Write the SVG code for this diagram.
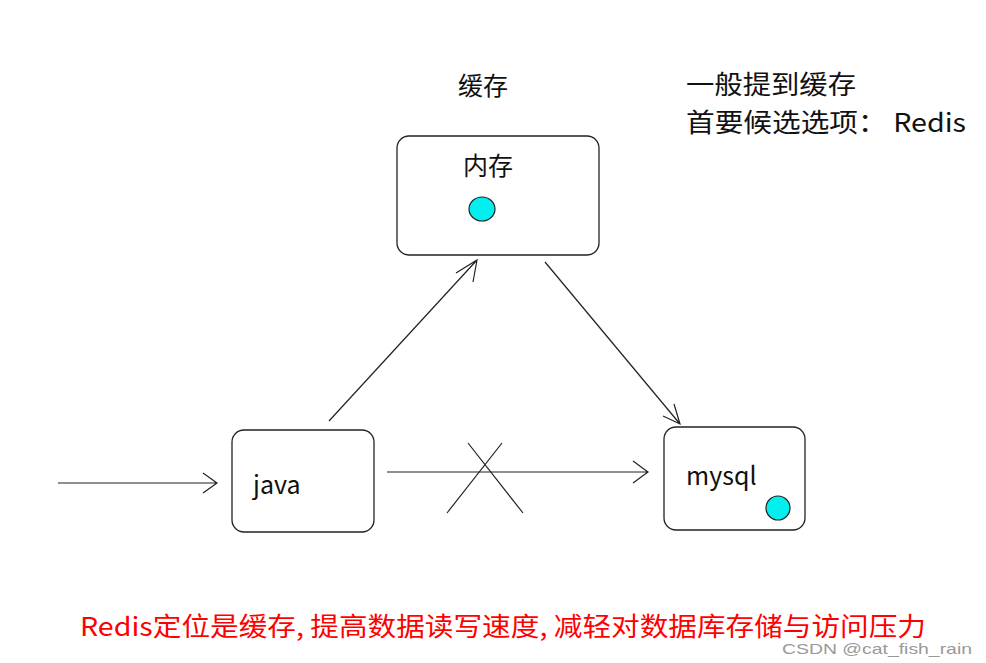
<svg xmlns="http://www.w3.org/2000/svg" width="986" height="663" viewBox="0 0 986 663">
<style>
.box{fill:#fff;stroke:#222;stroke-width:1.3}
.t{font-family:"Noto Sans CJK SC","Liberation Sans",sans-serif;font-size:25px;fill:#111}
.ln{stroke:#222;stroke-width:1.2;fill:none}
.dot{fill:#00f0f0;stroke:#222;stroke-width:1.2}
</style>
<rect width="986" height="663" fill="#fff"/>
<text class="t" x="458" y="95">缓存</text>
<text class="t" x="686" y="94" font-size="26" style="font-size:26px" textLength="170" lengthAdjust="spacingAndGlyphs">一般提到缓存</text>
<text class="t" x="686" y="132" style="font-size:26px" textLength="280" lengthAdjust="spacingAndGlyphs">首要候选选项：  Redis</text>
<g id="mem"><rect class="box" x="397" y="136" width="202" height="119" rx="12"/><text class="t" x="463" y="175">内存</text><ellipse class="dot" cx="482" cy="209" rx="13" ry="12"/></g>
<g id="java"><rect class="box" x="232" y="430" width="142" height="102" rx="12"/><text class="t" x="253" y="494">java</text></g>
<g id="mysql"><rect class="box" x="664" y="427" width="141" height="103" rx="12"/><text class="t" x="686" y="485">mysql</text><ellipse class="dot" cx="778" cy="508" rx="12" ry="12"/></g>
<g id="connectors">
<path class="ln" d="M58 483H217M203 473L217 483L203 493"/>
<path class="ln" d="M329 421L477 260M456 273L477 260L473 282"/>
<path class="ln" d="M545 262L680 424M663 416L680 424L674 404"/>
<path class="ln" d="M387 472H648M633 461L648 472L633 483"/>
<path class="ln" d="M468 443L523 513M502 443L447 513"/>
</g>
<text x="80" y="636" textLength="846" lengthAdjust="spacingAndGlyphs" font-family="Noto Sans CJK SC,Liberation Sans,sans-serif" font-size="26" fill="#f00">Redis定位是缓存, 提高数据读写速度, 减轻对数据库存储与访问压力</text>
<text x="782" y="654" textLength="190" lengthAdjust="spacingAndGlyphs" font-family="Liberation Sans,sans-serif" font-size="15" fill="#999">CSDN @cat_fish_rain</text>
</svg>
